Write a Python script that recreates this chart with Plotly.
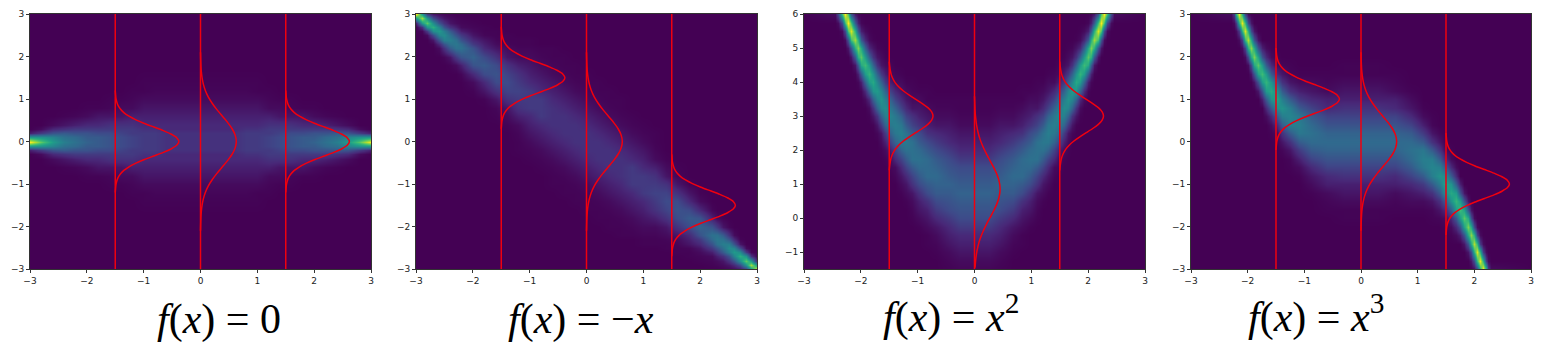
import plotly.graph_objects as go

# All density cells are levels, written in base 36
# (0 = background purple, z = brightest yellow; "," = a quarter, "." = a half).
# The red curves are read heights.
FIG_W, FIG_H = 1544, 342
PANEL_PX = [(30, 371), (416, 757), (804, 1145), (1191, 1531)]
PLOT_TOP, PLOT_BOTTOM = 14, 269
TITLE_PX = [219, 581, 951, 1316]
TITLE_Y_PX = [319, 319, 314, 314]
TITLES = ["<i>f</i>(<i>x</i>) = 0", "<i>f</i>(<i>x</i>) = \u2212<i>x</i>",
          "<i>f</i>(<i>x</i>) = <i>x</i><sup>2</sup>", "<i>f</i>(<i>x</i>) = <i>x</i><sup>3</sup>"]
X_TICKS = [-3, -2, -1, 0, 1, 2, 3]
Y_TICKS = [[-3, -2, -1, 0, 1, 2, 3], [-3, -2, -1, 0, 1, 2, 3],
           [-1, 0, 1, 2, 3, 4, 5, 6], [-3, -2, -1, 0, 1, 2, 3]]
Y_RANGES = [(-3, 3), (-3, 3), (-1.5, 6), (-3, 3)]

# Panel 1: right half, upper half
P1_X = [0, .2, .4, .6, .8, 1, 1.2, 1.4, 1.6, 1.8, 2, 2.2, 2.4, 2.6, 2.8, 3]
P1_Y = [0, .1, .2, .3, .4, .6, .8, 1, 1.2, 1.4, 1.7, 3]
P1_ROWS = ["555566789abdfjqz", "555566789aacdgij", "555566678899a963",
           "4444556666665410", "4444445554432100", "33333332221.,000",
           "22222211.,,00000", "111111.,,0000000", ".....,,000000000",
           ",,,,,,0000000000", "0000000000000000", "0000000000000000"]

# Panel 2: right half; rows are padded with zeros on the right
P2_X = [0, .2, .4, .6, .8, 1, 1.2, 1.4, 1.6, 1.8, 2, 2.2, 2.3, 2.4, 2.5, 2.6, 2.7, 2.8, 2.9, 3]
P2_Y = [-3, -2.9, -2.8, -2.7, -2.6, -2.5, -2.4, -2.3, -2.2, -2, -1.8, -1.6, -1.4, -1.2, -1, -.8, -.6,
        -.4, -.2, 0, .2, .4, .6, .8, 1, 1.2, 1.4, 1.6, 1.8, 2, 2.2, 2.3, 2.4, 2.5, 2.6, 2.7, 2.8, 2.9, 3]
P2_ROWS = ["0000000000000,.126jz", "00000000000,.1248iuj", "0000000000,.1259hqj3",
           "000000000,.1359gmi50", "00000000,,136afjh6.0", "0000000,,.269dhg8100",
           "00000,,,.249dff92000", "00000,,.136ced94,000", "000,,..1249dda510000",
           "00,,.11258b962.00000", "0,,.12358a931,000000", ",,.12357984.00000000",
           ",.123468841", ".123467752,", "123466652,", "23456652.", "34556431,", "4555431,",
           "555432.", "554321,", "54321.,", "4321.,", "321.,", "21.,", "1.,,", ".,,", ",,", ",",
           "", "", "", "", "", "", "", "", "", "", ""]

# Panel 3: right half, columns as x, first row, levels
P3_Y = [-1.5, -1.25, -1, -.75, -.5, -.25, 0, .25, .5, .75, 1, 1.25, 1.5, 1.75, 2, 2.25,
        2.5, 2.75, 3, 3.25, 3.5, 3.75, 4, 4.25, 4.5, 4.75, 5, 5.25, 5.5, 5.75, 6]
P3_X = [0, .25, .45, .67, .84, .98, 1.1, 1.2, 1.3, 1.4, 1.48, 1.57, 1.64, 1.72, 1.79, 1.86,
        1.92, 1.99, 2.05, 2.11, 2.17, 2.23, 2.28, 2.34, 2.4, 2.46, 3]
P3_START = [0, 0, 0, 2, 3, 5, 6, 8, 9, 11, 12, 13, 14, 16, 17, 18, 20, 21, 22, 23, 25, 26, 27, 28, 29, 30, 0]
P3_LEVELS = [".1234689aba9864321.,,", ".1234689aba9864321.,,", ",.1234689aba9864321.,",
             ",.12468abcba86421.,", ",,12358accca85321,,", ",12358acdca85321,", ",.1257addda7521.,",
             ",1247adeda7421,", ",1247befeb7421,", ".147befeb741.", ".137begeb731.", ",136bfhfb631,",
             ",126bgigb621,", ".25bgjgb52.", ",25bilib52,", ",14bjnjb41,", "14bjojb41", ".3alqla3.",
             ".3amsma3.", ",2amuma2,", "29oxo92", "29pzp", "18oz", "18o", "18", "1", "0"]

# Panel 4: right half, columns as x, first row, levels
P4_Y = [-3, -2.8, -2.6, -2.4, -2.2, -2, -1.8, -1.6, -1.4, -1.2, -1, -.8, -.6, -.4, -.2, 0,
        .2, .4, .6, .8, 1, 1.2, 1.4, 1.6, 1.8, 2, 2.2, 2.4, 2.6, 2.8, 3]
P4_X = [0, .3, .6, .874, 1.1, 1.26, 1.39, 1.49, 1.59, 1.67, 1.75, 1.82, 1.88, 1.94, 2,
        2.05, 2.105, 2.154, 2.2, 2.245, 2.29, 3]
P4_START = [6, 6, 7, 7, 7, 6, 6, 5, 4, 4, 4, 3, 2, 1, 0, 0, 0, 0, 0, 0, 0, 0]
P4_LEVELS = [",,123579bcb975321,,", ",,123579bcb975321,,", ",.13479bcb97431.,", ",1247acdca7421,",
             ",136aefea631,", ",.25afgfa52.,", ".25afifa52.", ",14ahkha41,", ",14ailia41,", "14ajnja41",
             "39joj93", "29kqk92", "29lsl92", "28ltl82", "18mvm81", "7nxn71", "mym61",
             "zm61", "m61", "61", "1", "0"]

# Red curves: heights against distance from the peak
NARROW_OFF = [0, .085, .17, .255, .34, .425, .51, .595, .68, .765, .85, .935, 1.02, 1.105, 1.2]
NARROW_H = [1.12, 1.085, .988, .846, .68, .513, .364, .242, .151, .09, .049, .026, .012, .006, 0]
WIDE_OFF = [0, .15, .3, .45, .6, .75, .9, 1.05, 1.2, 1.35, 1.5, 1.65, 1.8, 1.95, 2.1]
WIDE_H = [.63, .61, .556, .476, .382, .289, .205, .136, .085, .05, .028, .014, .007, .003, 0]
BROAD_OFF = [0, .21, .42, .63, .84, 1.05, 1.26, 1.47, 1.68, 1.89, 2.1, 2.31, 2.52, 2.73]
BROAD_H = [.45, .436, .397, .34, .273, .206, .146, .097, .061, .036, .02, .01, .005, 0]
SIDE_OFF = [0, .1225, .245, .3675, .49, .6125, .735, .8575, .98, 1.1025, 1.225, 1.3475, 1.47, 1.6]
SIDE_H = [.77, .746, .679, .581, .467, .353, .25, .166, .104, .062, .034, .018, .008, 0]
CURVE_X = [-1.5, 0, 1.5]
CURVE_PEAK_Y = [[0, 0, 0], [1.5, 0, -1.5], [3, .85, 3], [1, 0, -1]]
CURVE_KIND = [[(NARROW_OFF, NARROW_H), (WIDE_OFF, WIDE_H), (NARROW_OFF, NARROW_H)],
              [(NARROW_OFF, NARROW_H), (WIDE_OFF, WIDE_H), (NARROW_OFF, NARROW_H)],
              [(SIDE_OFF, SIDE_H), (BROAD_OFF, BROAD_H), (SIDE_OFF, SIDE_H)],
              [(NARROW_OFF, NARROW_H), (WIDE_OFF, WIDE_H), (NARROW_OFF, NARROW_H)]]
FRACTIONS = {",": 0.25, ".": 0.5}


def level(c):
    return FRACTIONS[c] if c in FRACTIONS else int(c, 36)


def rows_to_matrix(rows, width):
    return [[level(c) for c in r.ljust(width, "0")] for r in rows]


def columns_to_matrix(n_rows, starts, levels):
    m = [[0] * len(starts) for _ in range(n_rows)]
    for i, (s, vals) in enumerate(zip(starts, levels)):
        for k, c in enumerate(vals):
            if s + k < n_rows:
                m[s + k][i] = level(c)
    return m


def mirror_x(xs):
    return [-x for x in xs[:0:-1]] + list(xs)


def mirror_same(m):
    return [r[:0:-1] + r for r in m]


def mirror_turned(m):
    n = len(m)
    return [m[n - 1 - j][:0:-1] + m[j] for j in range(n)]


p1 = rows_to_matrix(P1_ROWS, len(P1_X))
p1_full = mirror_same(p1[:0:-1] + p1)
p1_y = [-y for y in P1_Y[:0:-1]] + P1_Y
p2_full = mirror_turned(rows_to_matrix(P2_ROWS, len(P2_X)))
p3_full = mirror_same(columns_to_matrix(len(P3_Y), P3_START, P3_LEVELS))
p4_full = mirror_turned(columns_to_matrix(len(P4_Y), P4_START, P4_LEVELS))
GRIDS = [(mirror_x(P1_X), p1_y, p1_full), (mirror_x(P2_X), P2_Y, p2_full),
         (mirror_x(P3_X), P3_Y, p3_full), (mirror_x(P4_X), P4_Y, p4_full)]

fig = go.Figure()
layout = {}
y_dom = [(FIG_H - PLOT_BOTTOM) / FIG_H, (FIG_H - PLOT_TOP) / FIG_H]
annotations = []
for p in range(4):
    sfx = "" if p == 0 else str(p + 1)
    gx, gy, gz = GRIDS[p]
    fig.add_trace(go.Heatmap(x=gx, y=gy, z=gz, zmin=0, zmax=35, colorscale="Viridis",
                             zsmooth="best", showscale=False, hoverinfo="skip",
                             xaxis="x" + sfx, yaxis="y" + sfx))
    lo, hi = Y_RANGES[p]
    for c in range(3):
        off, hgt = CURVE_KIND[p][c]
        x0, y0 = CURVE_X[c], CURVE_PEAK_Y[p][c]
        fig.add_trace(go.Scatter(x=[x0, x0], y=[lo, hi], mode="lines",
                                 line=dict(color="#f0000f", width=1.5),
                                 hoverinfo="skip", showlegend=False,
                                 xaxis="x" + sfx, yaxis="y" + sfx))
        ys = [y0 - o for o in off[:0:-1]] + [y0 + o for o in off]
        xs = [x0 + h for h in hgt[:0:-1]] + [x0 + h for h in hgt]
        keep = [(a, b) for a, b in zip(xs, ys) if lo <= b <= hi]
        fig.add_trace(go.Scatter(x=[k[0] for k in keep], y=[k[1] for k in keep], mode="lines",
                                 line=dict(color="#f0000f", width=1.5, shape="spline", smoothing=0.6),
                                 hoverinfo="skip", showlegend=False,
                                 xaxis="x" + sfx, yaxis="y" + sfx))
    axis_style = dict(showgrid=False, zeroline=False, showline=True, mirror=True, linecolor="#333333",
                      linewidth=1, ticks="outside", ticklen=3, tickwidth=1, tickcolor="#333333",
                      tickfont=dict(family="DejaVu Sans", size=9, color="#222222"))
    layout["xaxis" + sfx] = dict(domain=[PANEL_PX[p][0] / FIG_W, PANEL_PX[p][1] / FIG_W],
                                 range=[-3, 3], tickvals=X_TICKS, anchor="y" + sfx, **axis_style)
    layout["yaxis" + sfx] = dict(domain=y_dom, range=list(Y_RANGES[p]), tickvals=Y_TICKS[p],
                                 anchor="x" + sfx, **axis_style)
    annotations.append(dict(text=TITLES[p], xref="paper", yref="paper", x=TITLE_PX[p] / FIG_W,
                            y=(FIG_H - TITLE_Y_PX[p]) / FIG_H, xanchor="center", yanchor="middle", showarrow=False,
                            font=dict(family="Liberation Serif", size=42, color="black")))

fig.update_layout(width=FIG_W, height=FIG_H, margin=dict(l=0, r=0, t=0, b=0, autoexpand=False),
                  showlegend=False, plot_bgcolor="#440154", paper_bgcolor="white",
                  annotations=annotations, **layout)
fig.write_html("out.html", post_script="document.body.style.margin='0';",
               config={"displayModeBar": False})
